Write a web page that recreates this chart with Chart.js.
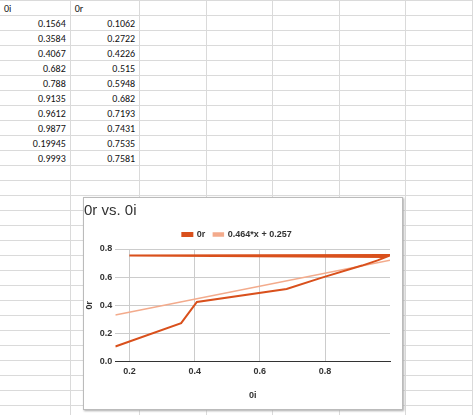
<!DOCTYPE html>
<html><head><meta charset="utf-8">
<script src="https://cdn.jsdelivr.net/npm/chart.js@4"></script>
<style>
body{margin:0;width:474px;height:415px;overflow:hidden;background:#fff;font-family:Calibri,"Liberation Sans",Arial,sans-serif;position:relative}
table{border-collapse:collapse;position:absolute;left:-1px;top:0;table-layout:fixed}
td{border:1px solid #dadada;height:14px;padding:0 4px;font-size:10px;color:#111;white-space:nowrap;overflow:hidden}
td.n{text-align:right}
#box{position:absolute;left:83px;top:197px;width:318px;height:211px;background:#fff;border:1px solid #bbb;box-shadow:1px 1px 2px #aaa}
</style></head><body>
<table id="t"></table>
<div id="box"><canvas id="c"></canvas></div>
<script>
const headers=["0i","0r"];
const oi=[0.1564,0.3584,0.4067,0.682,0.788,0.9135,0.9612,0.9877,0.19945,0.9993];
const orv=[0.1062,0.2722,0.4226,0.515,0.5948,0.682,0.7193,0.7431,0.7535,0.7581];
const trendX=[0.1564,0.9993];
const trendY=[0.33,0.72];
const trendLabel="0.464*x + 0.257";
const xTicks=[0.2,0.4,0.6,0.8];

const t=document.getElementById('t');
const widths=[74,73,73,73,73,73,73];
let html='<colgroup>'+widths.map(w=>`<col style="width:${w}px">`).join('')+'</colgroup>';
html+='<tr>'+widths.map((w,i)=>`<td>${i<2?headers[i]:''}</td>`).join('')+'</tr>';
for(let r=0;r<28;r++){
  html+='<tr>'+widths.map((w,i)=>{
    if(r<oi.length&&i===0)return `<td class="n">${oi[r]}</td>`;
    if(r<oi.length&&i===1)return `<td class="n">${orv[r]}</td>`;
    return '<td></td>';}).join('')+'</tr>';
}
t.innerHTML=html;

const c=document.getElementById('c');c.width=318;c.height=211;
const f=(s,w)=>({family:'Liberation Sans',size:s,weight:w||'bold'});
new Chart(c,{type:'scatter',data:{datasets:[
 {label:headers[1],data:oi.map((x,i)=>({x,y:orv[i]})),showLine:true,borderColor:'#d9501c',backgroundColor:'#d9501c',borderWidth:2,pointRadius:0,tension:0},
 {label:trendLabel,data:trendX.map((x,i)=>({x,y:trendY[i]})),showLine:true,borderColor:'#f3ab8c',backgroundColor:'#f3ab8c',borderWidth:1.5,pointRadius:0}
]},options:{responsive:false,animation:false,devicePixelRatio:1,
 layout:{padding:{left:0,right:12,top:2,bottom:4}},
 plugins:{title:{display:true,text:'0r vs. 0i',align:'start',color:'#333',font:f(15,'normal'),padding:{top:2,bottom:2}},
  legend:{labels:{boxWidth:10,boxHeight:3,padding:8,color:'#333',font:f(9)}},tooltip:{enabled:false}},
 scales:{x:{type:'linear',min:0.1564,max:0.9993,afterBuildTicks:a=>{a.ticks=xTicks.map(v=>({value:v}))},
   title:{display:true,text:'0i',color:'#333',font:f(9),padding:{top:8}},
   grid:{color:'#ccc',drawTicks:false},border:{color:'#333'},ticks:{padding:5,color:'#333',font:f(9),callback:v=>v.toFixed(1)}},
  y:{min:0,max:0.8,title:{display:true,text:'0r',color:'#333',font:f(9),padding:{top:0,bottom:2}},
   grid:{color:'#ccc',drawTicks:false},border:{display:false},ticks:{stepSize:0.2,padding:3,color:'#333',font:f(9),callback:v=>v.toFixed(1)}}}}});
</script></body></html>
